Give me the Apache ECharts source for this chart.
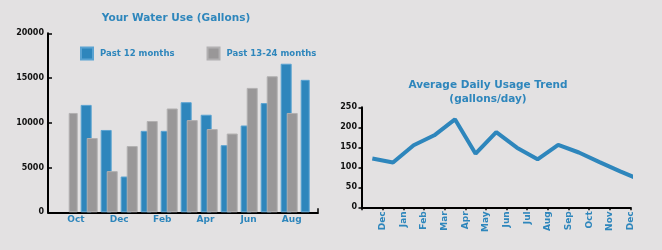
<!DOCTYPE html>
<html>
<head>
<meta charset="utf-8">
<script src="https://cdn.jsdelivr.net/npm/echarts@6/dist/echarts.min.js"></script>
<style>
html,body{margin:0;padding:0;background:#e3e1e2;}
#c{width:662px;height:250px;}
</style>
</head>
<body>
<div id="c"></div>
<script>
// ---- data ----
var barMonths = ['Oct','Nov','Dec','Jan','Feb','Mar','Apr','May','Jun','Jul','Aug','Sep'];
var past12 = [12000, 9200, 4000, 9100, 9100, 12300, 10900, 7500, 9700, 12200, 16600, 14800];
var past13to24 = [11100, 8300, 4600, 7400, 10200, 11600, 10300, 9300, 8800, 13900, 15200, 11100];
var barTicks = [0, 5000, 10000, 15000, 20000];

var trendLabels = ['', 'Dec','Jan','Feb','Mar','Apr','May','Jun','Jul','Aug','Sep','Oct','Nov','Dec'];
var dailyUsage = [122, 112, 155, 180, 220, 134, 188, 149, 120, 156, 137, 113, 90, 68];
var trendTicks = [0, 50, 100, 150, 200, 250];

var BLUE = '#2e86bc', GRAY = '#999798', FONT = 'DejaVu Sans';

var chart = echarts.init(document.getElementById('c'), null, {renderer: 'canvas'});
var lineData = dailyUsage.map(function (v, i) { return [i + 0.5, v]; });
var plain = function (v) { return String(v); };

var option = {
  backgroundColor: '#e3e1e2',
  animation: false,
  title: [
    {text: 'Your Water Use (Gallons)', left: 171, top: 7, textAlign: 'center',
     textStyle: {color: BLUE, fontFamily: FONT, fontWeight: 'bold', fontSize: 10.5, lineHeight: 13}},
    {text: 'Average Daily Usage Trend\n(gallons/day)', left: 483, top: 74, textAlign: 'center',
     textStyle: {color: BLUE, fontFamily: FONT, fontWeight: 'bold', fontSize: 10.5, lineHeight: 13.3}}
  ],
  legend: {
    data: ['Past 12 months', 'Past 13-24 months'],
    left: 80, top: 46.5, padding: 0, itemWidth: 12, itemHeight: 12, itemGap: 32,
    icon: 'rect',
    textStyle: {color: BLUE, fontFamily: FONT, fontWeight: 'bold', fontSize: 8.5, padding: [0,0,0,2]}
  },
  grid: [
    {left: 48, right: 344, top: 33.3, bottom: 37.7},
    {left: 69.2, right: 352.8, top: 33.3, bottom: 37.7},
    {left: 65.2, right: 337.9, top: 33.3, bottom: 37.7},
    {left: 362, right: 31.5, top: 107.3, bottom: 42.7}
  ],
  xAxis: [
    {gridIndex: 0, type: 'value', min: 0, max: 1, interval: 1,
     axisLine: {show: true, lineStyle: {color: '#000', width: 2}},
     axisTick: {show: true, inside: true, length: 4, lineStyle: {color: '#000', width: 1.5}},
     axisLabel: {show: false}, splitLine: {show: false}},
    {gridIndex: 1, type: 'category', data: barMonths, show: false},
    {gridIndex: 2, type: 'category', data: barMonths,
     axisLine: {show: false}, axisTick: {show: false},
     axisLabel: {interval: 1, margin: 3, color: BLUE, fontFamily: FONT, fontWeight: 'bold', fontSize: 9}},
    {gridIndex: 3, type: 'category', data: trendLabels, boundaryGap: false,
     axisLine: {show: true, lineStyle: {color: '#000', width: 2}},
     axisTick: {show: true, length: 3, interval: 0, lineStyle: {color: '#000', width: 1.5}},
     axisLabel: {interval: 0, rotate: 90, margin: 4, color: BLUE, fontFamily: FONT, fontWeight: 'bold', fontSize: 9}},
    {gridIndex: 3, type: 'value', min: 0, max: 13, show: false}
  ],
  yAxis: [
    {gridIndex: 0, type: 'value', min: barTicks[0], max: barTicks[barTicks.length - 1], interval: barTicks[1] - barTicks[0],
     axisLine: {show: true, lineStyle: {color: '#000', width: 2}},
     axisTick: {show: true, inside: true, length: 4, lineStyle: {color: '#000', width: 1.5}},
     axisLabel: {margin: 4, color: '#111', fontFamily: FONT, fontWeight: 'bold', fontSize: 8, formatter: plain},
     splitLine: {show: false}},
    {gridIndex: 1, type: 'value', min: barTicks[0], max: barTicks[barTicks.length - 1], show: false, splitLine: {show: false}},
    {gridIndex: 2, type: 'value', min: 0, max: 1, show: false, splitLine: {show: false}},
    {gridIndex: 3, type: 'value', min: trendTicks[0], max: trendTicks[trendTicks.length - 1], interval: trendTicks[1] - trendTicks[0],
     axisLine: {show: true, lineStyle: {color: '#000', width: 2}},
     axisTick: {show: true, length: 3.5, lineStyle: {color: '#000', width: 1.5}},
     axisLabel: {margin: 5, color: '#111', fontFamily: FONT, fontWeight: 'bold', fontSize: 8, formatter: plain},
     splitLine: {show: false}}
  ],
  series: [
    {name: 'Past 13-24 months', type: 'bar', xAxisIndex: 1, yAxisIndex: 1, data: past13to24,
     barWidth: 11, barGap: '27%', z: 3,
     itemStyle: {color: GRAY, borderColor: '#b2b0b1', borderWidth: 1}},
    {name: 'Past 12 months', type: 'bar', xAxisIndex: 1, yAxisIndex: 1, data: past12,
     barWidth: 11, barGap: '27%', z: 2,
     itemStyle: {color: BLUE, borderColor: '#5aa3d2', borderWidth: 1}},
    {name: 'Daily', type: 'line', xAxisIndex: 4, yAxisIndex: 3, data: lineData,
     showSymbol: false, symbol: 'none', clip: true,
     lineStyle: {color: BLUE, width: 4}}
  ]
};
chart.setOption(option);
</script>
</body>
</html>
